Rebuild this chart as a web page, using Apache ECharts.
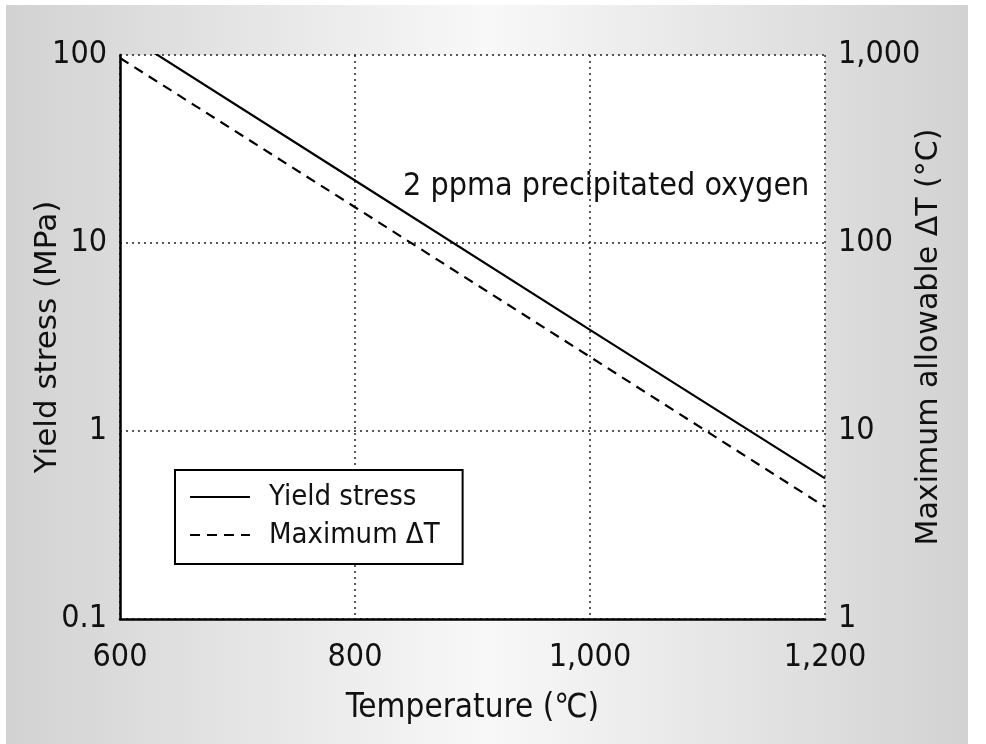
<!DOCTYPE html>
<html>
<head>
<meta charset="utf-8">
<title>Yield stress vs temperature</title>
<script src="https://cdn.jsdelivr.net/npm/echarts@6/dist/echarts.min.js"></script>
<style>
  html, body { margin: 0; padding: 0; background: #fff; }
  #chart { width: 986px; height: 744px; }
</style>
</head>
<body>
<div id="chart"></div>
<script>
// data
const temperatures = [600, 800, 1000, 1200];          // ℃
const yieldStress = [134, 21.5, 3.45, 0.56];          // MPa (left axis)
const maxDeltaT = [964, 155, 24.8, 3.95];             // ℃ (right axis)
const xTicks = [600, 800, 1000, 1200];
const leftTicks = [0.1, 1, 10, 100];
const rightTicks = [1, 10, 100, 1000];
const annotation = '2 ppma precipitated oxygen';

const condensed = '"DejaVu Sans Condensed", "DejaVu Sans", sans-serif';
const normal = '"DejaVu Sans", sans-serif';

function withCommas(v) {
  return String(v).replace(/\B(?=(\d{3})+(?!\d))/g, ',');
}

const chartDom = document.getElementById('chart');
const myChart = echarts.init(chartDom);

const option = {
  animation: false,
  graphic: [
    {
      type: 'rect',
      z: -10,
      shape: { x: 6, y: 5, width: 962, height: 739 },
      style: {
        fill: {
          type: 'linear', x: 0, y: 0, x2: 1, y2: 0,
          colorStops: [
            { offset: 0, color: '#d2d2d2' },
            { offset: 0.5, color: '#f8f8f8' },
            { offset: 1, color: '#d2d2d2' }
          ]
        }
      }
    },
    {
      type: 'text',
      left: 403,
      top: 171,
      z: 10,
      style: {
        text: annotation,
        font: '32px ' + condensed,
        fill: '#111'
      }
    }
  ],
  grid: {
    left: 120,
    right: 161,
    top: 55,
    bottom: 125,
    show: true,
    backgroundColor: '#fff',
    borderWidth: 0
  },
  legend: {
    left: 175,
    top: 470,
    orient: 'vertical',
    backgroundColor: '#fff',
    borderColor: '#000',
    borderWidth: 2,
    borderRadius: 0,
    padding: [11, 23, 13, 14],
    itemWidth: 60,
    itemHeight: 14,
    itemGap: 6,
    itemStyle: { opacity: 0 },
    textStyle: {
      fontFamily: condensed,
      fontSize: 29,
      color: '#111',
      lineHeight: 32,
      padding: [0, 0, 0, 14]
    },
    data: ['Yield stress', 'Maximum ΔT']
  },
  xAxis: {
    type: 'value',
    min: 600,
    max: 1200,
    interval: 200,
    name: 'Temperature (℃)',
    nameLocation: 'middle',
    nameGap: 73,
    nameMoveOverlap: false,
    nameTextStyle: { fontFamily: condensed, fontSize: 33, color: '#111' },
    axisLine: { show: true, onZero: false, lineStyle: { color: '#000', width: 2.5 } },
    axisTick: { show: false },
    axisLabel: {
      margin: 23,
      fontFamily: condensed,
      fontSize: 32,
      color: '#111',
      formatter: v => xTicks.includes(v) ? withCommas(v) : ''
    },
    splitLine: { show: true, lineStyle: { color: '#222', width: 1.5, type: [2, 4] } }
  },
  yAxis: [
    {
      type: 'log',
      logBase: 10,
      min: 0.1,
      max: 100,
      position: 'left',
      name: 'Yield stress (MPa)',
      nameLocation: 'middle',
      nameRotate: 90,
      nameGap: 57,
      nameMoveOverlap: false,
      nameTextStyle: { fontFamily: normal, fontSize: 31, color: '#111' },
      axisLine: { show: true, lineStyle: { color: '#000', width: 2.5 } },
      axisTick: { show: false },
      axisLabel: {
        margin: 13,
        fontFamily: condensed,
        fontSize: 32,
        color: '#111',
        formatter: v => leftTicks.some(t => Math.abs(t - v) < 1e-9) ? String(v) : ''
      },
      splitLine: { show: true, lineStyle: { color: '#222', width: 1.5, type: [2, 4] } }
    },
    {
      type: 'log',
      logBase: 10,
      min: 1,
      max: 1000,
      position: 'right',
      name: 'Maximum allowable ΔT (°C)',
      nameLocation: 'middle',
      nameRotate: 90,
      nameGap: 89,
      nameMoveOverlap: false,
      nameTextStyle: { fontFamily: normal, fontSize: 30, color: '#111' },
      axisLine: { show: false },
      axisTick: { show: false },
      axisLabel: {
        margin: 13,
        fontFamily: condensed,
        fontSize: 32,
        color: '#111',
        formatter: v => rightTicks.some(t => Math.abs(t - v) < 1e-9) ? withCommas(v) : ''
      },
      splitLine: { show: false }
    }
  ],
  series: [
    {
      name: 'Yield stress',
      type: 'line',
      yAxisIndex: 0,
      data: temperatures.map((t, i) => [t, yieldStress[i]]),
      symbol: 'none',
      clip: true,
      lineStyle: { color: '#000', width: 2.2, type: 'solid' },
      itemStyle: { color: '#000' }
    },
    {
      name: 'Maximum ΔT',
      type: 'line',
      yAxisIndex: 1,
      data: temperatures.map((t, i) => [t, maxDeltaT[i]]),
      symbol: 'none',
      clip: true,
      lineStyle: { color: '#000', width: 2.2, type: [10, 7] },
      itemStyle: { color: '#000' }
    }
  ]
};

myChart.setOption(option);
window.addEventListener('resize', function() {
  myChart.resize();
});
</script>
</body>
</html>
